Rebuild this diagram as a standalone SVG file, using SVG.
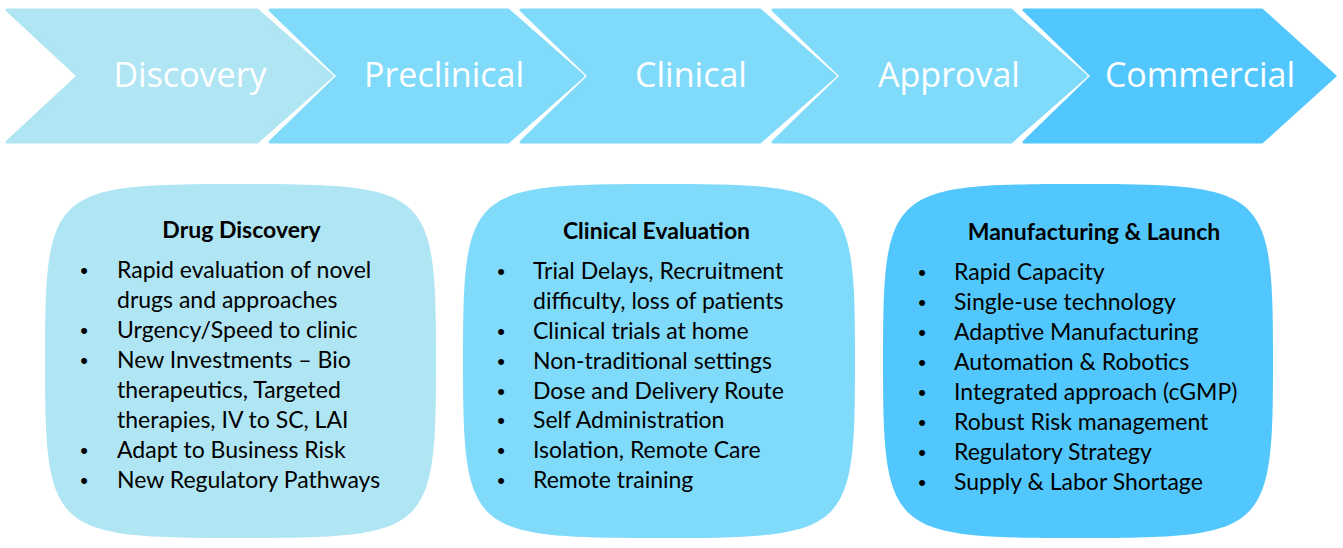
<svg xmlns="http://www.w3.org/2000/svg" width="1343" height="548" viewBox="0 0 1343 548">
<style>
.c1{fill:#B0E5F3}
.c2{fill:#80DAFA}
.c3{fill:#52C7FD}
.chev{stroke-linejoin:round;stroke-width:3}
.s1{stroke:#B0E5F3}.s2{stroke:#80DAFA}.s3{stroke:#52C7FD}
.lab{font-family:"Open Sans","Noto Sans",sans-serif;font-size:34px;fill:#fff;text-anchor:middle}
.ttl{font-family:Lato,"Liberation Sans",sans-serif;font-size:23px;font-weight:bold;fill:#000;text-anchor:middle}
.txt{font-family:Lato,"Liberation Sans",sans-serif;font-size:23px;fill:#000}
.bul{font-family:"Liberation Sans",sans-serif;font-size:22px;fill:#000;text-anchor:middle}
</style>
<rect width="1343" height="548" fill="#fff"/>
<g id="chevrons">
<g id="stage-discovery">
<polygon class="c1 s1 chev" points="7,10 257,10 332,76 257,142 7,142 78,76"/>
<text class="lab" x="190" y="87">Discovery</text>
</g>
<g id="stage-preclinical">
<polygon class="c2 s2 chev" points="270,10 508,10 583,76 508,142 270,142 338,76"/>
<text class="lab" x="444" y="87">Preclinical</text>
</g>
<g id="stage-clinical">
<polygon class="c2 s2 chev" points="521,10 760,10 835,76 760,142 521,142 589,76"/>
<text class="lab" x="691" y="87">Clinical</text>
</g>
<g id="stage-approval">
<polygon class="c2 s2 chev" points="773,10 1011,10 1086,76 1011,142 773,142 841,76"/>
<text class="lab" x="949" y="87">Approval</text>
</g>
<g id="stage-commercial">
<polygon class="c3 s3 chev" points="1024,10 1262,10 1335,76 1262,142 1024,142 1092,76"/>
<text class="lab" x="1200" y="87">Commercial</text>
</g>
</g>
<g id="connectors"></g>
<g id="box-drug-discovery">
<path class="c1" d="M240.5,184 C430,184 436,189 436,361 C436,533 430,538 240.5,538 C51,538 45,533 45,361 C45,189 51,184 240.5,184 Z"/>
<text class="ttl" x="241.5" y="238">Drug Discovery</text>
<text class="bul" x="84" y="278">•</text><text class="txt" x="117" y="278">Rapid evaluation of novel</text>
<text class="txt" x="117" y="308">drugs and approaches</text>
<text class="bul" x="84" y="338">•</text><text class="txt" x="117" y="338">Urgency/Speed to clinic</text>
<text class="bul" x="84" y="368">•</text><text class="txt" x="117" y="368">New Investments – Bio</text>
<text class="txt" x="117" y="398">therapeutics, Targeted</text>
<text class="txt" x="117" y="428">therapies, IV to SC, LAI</text>
<text class="bul" x="84" y="458">•</text><text class="txt" x="117" y="458">Adapt to Business Risk</text>
<text class="bul" x="84" y="488">•</text><text class="txt" x="117" y="488">New Regulatory Pathways</text>
</g>
<g id="box-clinical-evaluation">
<path class="c2" d="M659,184 C849,184 855,189 855,361 C855,533 849,538 659,538 C469,538 463,533 463,361 C463,189 469,184 659,184 Z"/>
<text class="ttl" x="656.5" y="239">Clinical Evaluation</text>
<text class="bul" x="501" y="279">•</text><text class="txt" x="533" y="279">Trial Delays, Recruitment</text>
<text class="txt" x="533" y="309">difficulty, loss of patients</text>
<text class="bul" x="501" y="339">•</text><text class="txt" x="533" y="339">Clinical trials at home</text>
<text class="bul" x="501" y="369">•</text><text class="txt" x="533" y="369">Non-traditional settings</text>
<text class="bul" x="501" y="399">•</text><text class="txt" x="533" y="399">Dose and Delivery Route</text>
<text class="bul" x="501" y="428">•</text><text class="txt" x="533" y="428">Self Administration</text>
<text class="bul" x="501" y="458">•</text><text class="txt" x="533" y="458">Isolation, Remote Care</text>
<text class="bul" x="501" y="488">•</text><text class="txt" x="533" y="488">Remote training</text>
</g>
<g id="box-manufacturing-launch">
<path class="c3" d="M1078,184 C1267,184 1273,189 1273,361 C1273,533 1267,538 1078,538 C889,538 883,533 883,361 C883,189 889,184 1078,184 Z"/>
<text class="ttl" x="1094" y="240">Manufacturing &amp; Launch</text>
<text class="bul" x="922" y="280">•</text><text class="txt" x="954" y="280">Rapid Capacity</text>
<text class="bul" x="922" y="310">•</text><text class="txt" x="954" y="310">Single-use technology</text>
<text class="bul" x="922" y="340">•</text><text class="txt" x="954" y="340">Adaptive Manufacturing</text>
<text class="bul" x="922" y="370">•</text><text class="txt" x="954" y="370">Automation &amp; Robotics</text>
<text class="bul" x="922" y="400">•</text><text class="txt" x="954" y="400">Integrated approach (cGMP)</text>
<text class="bul" x="922" y="430">•</text><text class="txt" x="954" y="430">Robust Risk management</text>
<text class="bul" x="922" y="460">•</text><text class="txt" x="954" y="460">Regulatory Strategy</text>
<text class="bul" x="922" y="490">•</text><text class="txt" x="954" y="490">Supply &amp; Labor Shortage</text>
</g>
</svg>
